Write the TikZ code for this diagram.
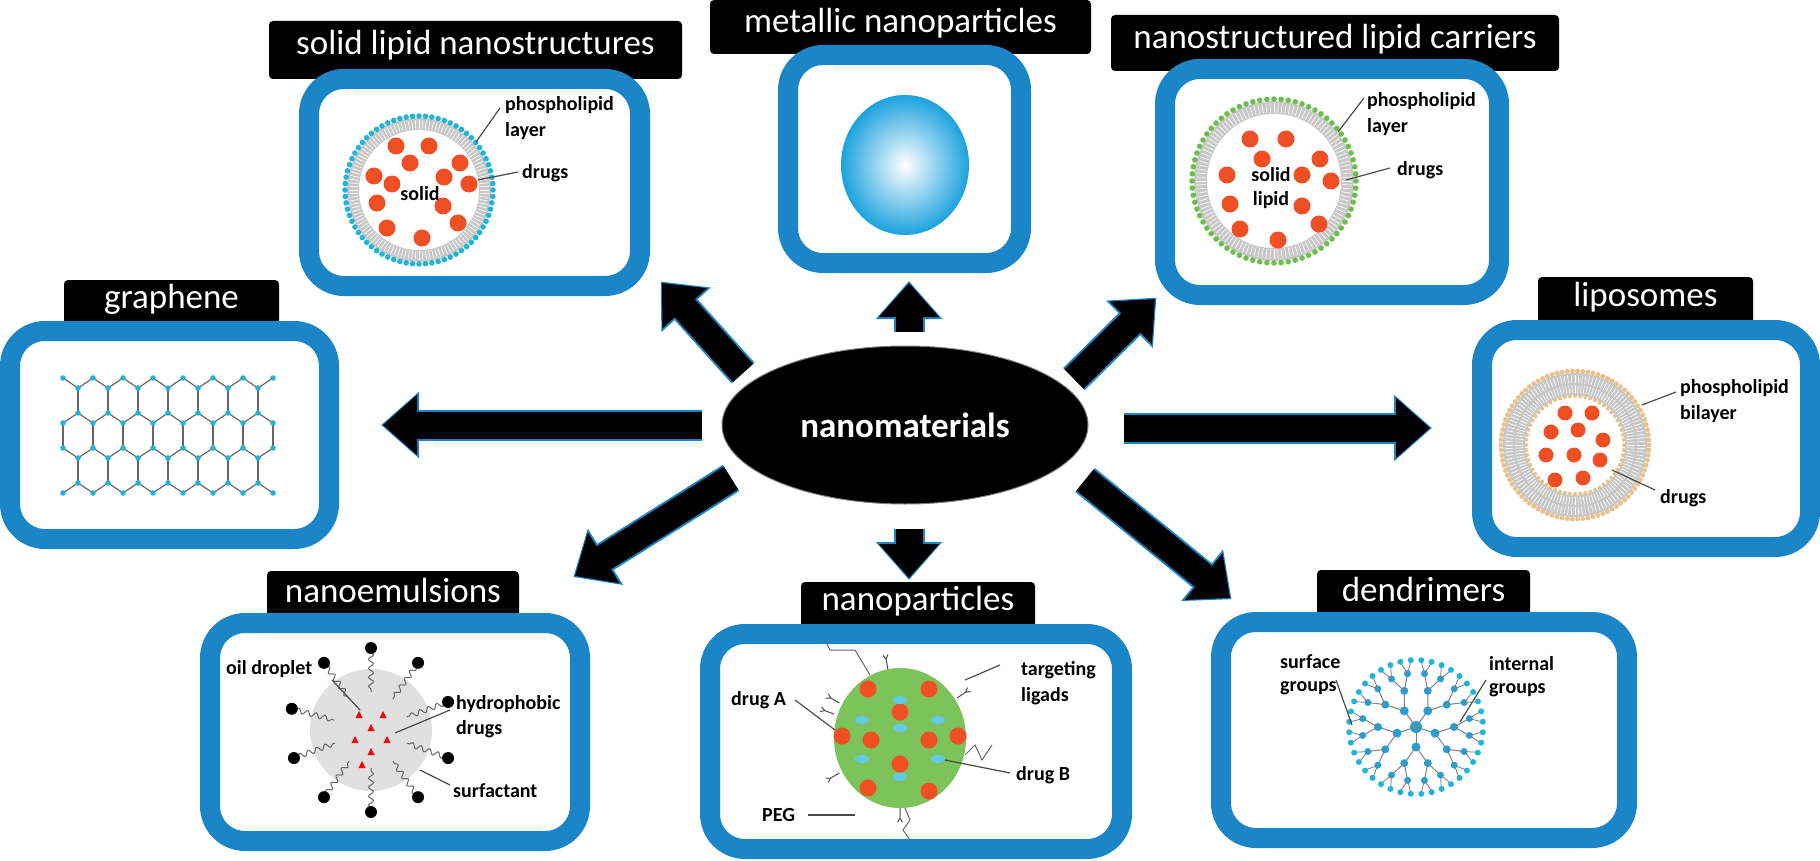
\documentclass[tikz,border=0pt]{standalone}
\usepackage{fontspec}
\setmainfont{Carlito}
\usetikzlibrary{arrows.meta,decorations.pathmorphing,shapes.geometric}
\definecolor{bl}{HTML}{1A86C8}
\definecolor{cy}{HTML}{1FB4DA}
\definecolor{rd}{HTML}{F04E23}
\definecolor{gr}{HTML}{C8C8C8}
\definecolor{gn}{HTML}{7DC35B}
\definecolor{gd}{HTML}{6CC04A}
\definecolor{tn}{HTML}{E8C38E}
\tikzset{
 box/.style={draw=bl,line width=20pt,rounded corners=35pt,fill=white},
 ttl/.style={fill=black,text=white,rounded corners=4pt,inner sep=0pt},
 ttx/.style={text=white,font=\fontsize{35}{37}\selectfont},
 lbl/.style={font=\bfseries\fontsize{20}{22}\selectfont,anchor=west,inner sep=0pt,align=left},
 lead/.style={draw=black!70,line width=1.2pt},
 drug/.style={fill=rd,draw=none},
 arr/.style={line width=27pt,-{Triangle[length=34pt,width=58pt]},black},
 arrb/.style={line width=31pt,-{Triangle[length=38pt,width=64pt]},bl},
 gline/.style={draw=gray!80!black,line width=1.2pt},
}
\begin{document}
\begin{tikzpicture}[x=1pt,y=-1pt]
\useasboundingbox (0,0) rectangle (1820,861);
% ---------- titles and boxes
\node[ttl,minimum width=413pt,minimum height=58pt] (tsln) at (475.5,50) {};
\node[box,minimum width=331pt,minimum height=207pt] (sln) at (474.5,182.5) {};
\node[ttx] at (475.5,45) {solid lipid nanostructures};
\node[ttl,minimum width=381pt,minimum height=54pt] (tmet) at (900.5,27) {};
\node[box,minimum width=233pt,minimum height=208pt] (met) at (904.5,159) {};
\node[ttx] at (900.5,23) {metallic nanoparticles};
\node[ttl,minimum width=448pt,minimum height=56pt] (tnlc) at (1335,43) {};
\node[box,minimum width=334pt,minimum height=226pt] (nlc) at (1332,182) {};
\node[ttx] at (1335,39) {nanostructured lipid carriers};
\node[ttl,minimum width=215pt,minimum height=50pt] (tgra) at (171.5,305) {};
\node[box,minimum width=319pt,minimum height=208pt] (gra) at (169.5,435) {};
\node[ttx] at (171.5,299) {graphene};
\node[ttl,minimum width=215pt,minimum height=51pt] (tlip) at (1645.5,302.5) {};
\node[box,minimum width=328pt,minimum height=217pt] (lip) at (1646,438.5) {};
\node[ttx] at (1645.5,297) {liposomes};
\node[ttl,minimum width=252pt,minimum height=49pt] (tnem) at (393,595.5) {};
\node[box,minimum width=370pt,minimum height=218pt] (nem) at (395,732) {};
\node[ttx] at (393,590) {nanoemulsions};
\node[ttl,minimum width=234pt,minimum height=48pt] (tnp) at (918,606) {};
\node[box,minimum width=412pt,minimum height=215pt] (np) at (916,741.5) {};
\node[ttx] at (918,601) {nanoparticles};
\node[ttl,minimum width=213pt,minimum height=48pt] (tden) at (1423.5,594) {};
\node[box,minimum width=406pt,minimum height=216pt] (den) at (1424,730) {};
\node[ttx] at (1423.5,589) {dendrimers};
% ---------- center
\node[ellipse,fill=black,draw=gray,line width=1pt,minimum width=366pt,minimum height=158pt,text=white,font=\bfseries\fontsize{35}{37}\selectfont] (nano) at (905,425) {nanomaterials};
% ---------- arrows
\foreach \n/\a/\b/\c/\d in {s1/743/373/662/283, s2/909/332/909/283, s3/1074/379/1155/299, s4/702/425/383/425, s5/1124/428/1430/428, s6/731/478/575/576, s7/909/529/909/578, s8/1085/480/1230/598}{
  \coordinate (\n a) at (\a,\b); \coordinate (\n b) at (\c,\d);
}
\foreach \n in {s1,s2,s3,s4,s5,s6,s7,s8}{
  \draw[arrb,shorten >=-2pt] (\n a) -- (\n b);
  \draw[arr] (\n a) -- (\n b);
}
% ---------- SLN
\begin{scope}[shift={(419,190)}]
 \fill[gr] (0,0) circle (72);
 \fill[white] (0,0) circle (60);
 \foreach \t in {0,3,...,357}{\draw[white,line width=0.6pt] (\t:61) -- (\t:70);}
 \foreach \t in {0,5,...,355}{\fill[cy] (\t:74) circle (2.8);}
\end{scope}
\foreach \p in {(396,146),(429,146),(410,163),(460,163),(374,176),(444,177),(392,184),(469,184),(377,203),(443,206),(387,228),(458,223),(422,238)}{\fill[drug] \p circle (8.5);}
\node[lbl,anchor=center] (sol) at (420,194) {solid};
\node[lbl] (slnp) at (505,105) {phospholipid};
\node[lbl] (slnl) at (505,131) {layer};
\node[lbl] (slnd) at (522,173) {drugs};
\coordinate (c1) at (500,108); \coordinate (c2) at (476,142);
\coordinate (c3) at (518,172); \coordinate (c4) at (478,180);
\draw[lead] (c1) -- (c2); \draw[lead] (c3) -- (c4);
% ---------- metallic
\shade[inner color=white,outer color=cy!90!blue] (905,165) ellipse (64 and 70);
\node (sph) at (905,165) {};
% ---------- NLC
\begin{scope}[shift={(1274,181)}]
 \fill[gr] (0,0) circle (80);
 \fill[white] (0,0) circle (67);
 \foreach \t in {0,3,...,357}{\draw[white,line width=0.6pt] (\t:68) -- (\t:78);}
 \foreach \t in {0,5,...,355}{\fill[gd] (\t:82) circle (2.8);}
\end{scope}
\foreach \p in {(1250,139),(1286,139),(1262,159),(1320,159),(1227,175),(1302,175),(1331,181),(1230,204),(1302,206),(1240,229),(1319,224),(1278,240)}{\fill[drug] \p circle (8.5);}
\node[lbl,anchor=center] (nl1) at (1271,175) {solid};
\node[lbl,anchor=center] (nl2) at (1271,200) {lipid};
\node[lbl] (nlp) at (1367,101) {phospholipid};
\node[lbl] (nll) at (1367,127) {layer};
\node[lbl] (nld) at (1397,170) {drugs};
\coordinate (d1) at (1364,98); \coordinate (d2) at (1338,132);
\coordinate (d3) at (1390,168); \coordinate (d4) at (1346,180);
\draw[lead] (d1) -- (d2); \draw[lead] (d3) -- (d4);
% ---------- graphene
\foreach \k in {0,...,3}{
 \foreach \i in {0,...,13}{
  \pgfmathsetmacro\ya{378+35*\k+10*mod(\i+\k,2)}
  \pgfmathsetmacro\yb{378+35*\k+10*mod(\i+1+\k,2)}
  \draw[gline] (63+15*\i,\ya) -- (78+15*\i,\yb);
 }
}
\foreach \k in {0,1,2}{
 \foreach \i in {0,...,14}{
  \pgfmathtruncatemacro\m{mod(\i+\k,2)}
  \ifnum\m=1 \draw[gline] (63+15*\i,388+35*\k) -- (63+15*\i,413+35*\k);\fi
 }
}
\foreach \k in {0,...,3}{
 \foreach \i in {0,...,14}{
  \pgfmathsetmacro\ya{378+35*\k+10*mod(\i+\k,2)}
  \fill[cy] (63+15*\i,\ya) circle (2.8);
 }
}
% ---------- liposome
\begin{scope}[shift={(1575,445)}]
 \fill[gr] (0,0) circle (72);
 \fill[white] (0,0) circle (50);
 \foreach \t in {0,3,...,357}{\draw[white,line width=0.6pt] (\t:52) -- (\t:60); \draw[white,line width=0.6pt] (\t:62) -- (\t:70);}
 \foreach \t in {0,4,...,356}{\fill[tn] (\t:74) circle (2.5);}
 \foreach \t in {0,6,...,354}{\fill[tn] (\t:49) circle (2);}
\end{scope}
\foreach \p in {(1565,413),(1592,413),(1551,432),(1578,430),(1603,440),(1546,455),(1574,455),(1600,460),(1555,480),(1583,478)}{\fill[drug] \p circle (7.5);}
\node[lbl] (lpp) at (1680,388) {phospholipid};
\node[lbl] (lpb) at (1680,414) {bilayer};
\node[lbl] (lpd) at (1660,498) {drugs};
\coordinate (e1) at (1676,392); \coordinate (e2) at (1642,405);
\coordinate (e3) at (1655,490); \coordinate (e4) at (1612,470);
\draw[lead] (e1) -- (e2); \draw[lead] (e3) -- (e4);
% ---------- nanoemulsion
\fill[black!12] (371,730) circle (61);
\foreach \t in {20,55,90,125,160,195,235,270,305,340}{
 \draw[black!60,line width=1pt,decorate,decoration={snake,amplitude=2.5pt,segment length=9pt}] ([shift={(\t:78)}]371,730) -- ([shift={(\t:38)}]371,730);
 \fill[black] ([shift={(\t:82)}]371,730) circle (6);
}
\foreach \p in {(359,715),(383,715),(371,728),(355,740),(387,740),(371,752),(362,765)}{\fill[red] \p ++(0,-4) -- ++(3.5,7) -- ++(-7,0) -- cycle;}
\node[lbl] (noil) at (226,669) {oil droplet};
\node[lbl] (nhyd) at (456,704) {hydrophobic};
\node[lbl] (ndr) at (456,729) {drugs};
\node[lbl] (nsur) at (453,791) {surfactant};
\coordinate (f1) at (332,680); \coordinate (f2) at (360,710);
\coordinate (f3) at (450,710); \coordinate (f4) at (395,733);
\coordinate (f5) at (450,785); \coordinate (f6) at (420,770);
\draw[lead] (f1) -- (f2); \draw[lead] (f3) -- (f4); \draw[lead] (f5) -- (f6);
% ---------- nanoparticles
\fill[gn] (900,738) ellipse (66 and 70);
\foreach \p in {(868,689),(929,689),(900,712),(842,736),(871,740),(929,740),(958,736),(900,764),(868,788),(929,791)}{\fill[drug] \p circle (8.5);}
\foreach \p in {(900,700),(862,720),(938,720),(900,728),(862,759),(938,759),(900,777)}{\fill[cy!70] \p ellipse (7 and 4);}
\foreach \a in {90,150,200,-35,-150,-100}{
 \draw[black!70,line width=1pt] ([shift={(\a:70)}]900,738) -- ([shift={(\a:80)}]900,738) -- ++(\a+30:5) ([shift={(\a:80)}]900,738) -- ++(\a-30:5);
}
\draw[black!60,line width=1pt] (870,675) -- (855,650) -- (830,650) -- (825,640);
\draw[black!60,line width=1pt] (965,755) -- (975,745) -- (982,760) -- (992,745);
\draw[black!60,line width=1pt] (905,808) -- (910,820) -- (903,830) -- (910,840);
\node[lbl] (pda) at (731,700) {drug A};
\node[lbl] (ptg) at (1021,670) {targeting};
\node[lbl] (plg) at (1021,696) {ligads};
\node[lbl] (pdb) at (1016,775) {drug B};
\node[lbl] (ppe) at (762,815) {PEG};
\coordinate (g1) at (795,700); \coordinate (g2) at (835,730);
\coordinate (g3) at (1000,665); \coordinate (g4) at (965,680);
\coordinate (g5) at (1010,773); \coordinate (g6) at (945,760);
\coordinate (g7) at (808,815); \coordinate (g8) at (855,815);
\draw[lead] (g1) -- (g2); \draw[lead] (g3) -- (g4); \draw[lead] (g5) -- (g6); \draw[lead] (g7) -- (g8);
% ---------- dendrimer
\begin{scope}[shift={(1416,727)}]
 \fill[cy!90!blue] (0,0) circle (6);
 \foreach \j in {0,...,4}{
  \pgfmathsetmacro\a{90+72*\j}
  \draw[gray,line width=1pt] (0,0) -- (\a:20);
  \fill[cy!90!blue] (\a:20) circle (4.5);
  \foreach \s in {-1,1}{
   \pgfmathsetmacro\b{\a+18*\s}
   \draw[gray,line width=1pt] (\a:20) -- (\b:38);
   \fill[cy!90!blue] (\b:38) circle (4);
   \foreach \u in {-1,1}{
    \pgfmathsetmacro\c{\b+9*\u}
    \draw[gray,line width=1pt] (\b:38) -- (\c:54);
    \fill[cy!90!blue] (\c:54) circle (3.5);
    \foreach \v in {-1,1}{
     \pgfmathsetmacro\d{\c+4.5*\v}
     \draw[gray,line width=0.8pt] (\c:54) -- (\d:66);
     \fill[cy] (\d:67) circle (3);
    }
   }
  }
 }
\end{scope}
\node[lbl] (dsu) at (1280,662) {surface};
\node[lbl] (dsg) at (1280,688) {groups};
\node[lbl] (din) at (1489,664) {internal};
\node[lbl] (dig) at (1489,690) {groups};
\coordinate (h1) at (1336,680); \coordinate (h2) at (1352,725);
\coordinate (h3) at (1486,680); \coordinate (h4) at (1460,722);
\draw[lead] (h1) -- (h2); \draw[lead] (h3) -- (h4);
\end{tikzpicture}
\end{document}
